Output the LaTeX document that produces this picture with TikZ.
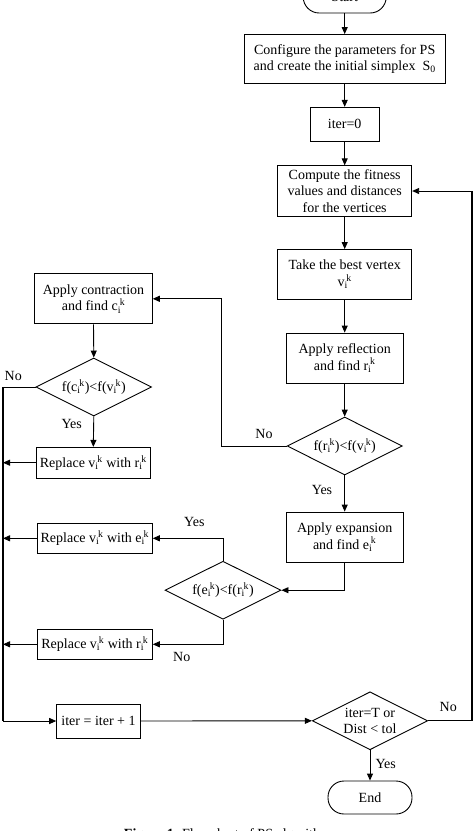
\documentclass[tikz,border=0pt]{standalone}
\usepackage{fontspec}
\setmainfont{Liberation Serif}
\usetikzlibrary{shapes.geometric,arrows.meta}
\newcommand\vik[1]{#1\rlap{\textsubscript{i}}\kern0.14em\textsuperscript{k}}
\tikzset{
  base/.style={line width=0.9pt, inner sep=0pt, align=center, font=\fontsize{14}{16.7}\selectfont},
  box/.style={base, draw, rectangle},
  dec/.style={base, draw, diamond, aspect=2},
  term/.style={base, draw, rectangle, rounded corners=16pt},
  arr/.style={line width=0.9pt, -{Triangle[length=7pt,width=6pt]}},
  ln/.style={line width=0.9pt},
  thick line/.style={line width=1.7pt},
  lbl/.style={inner sep=0pt, font=\fontsize{14}{16.7}\selectfont},
}
\begin{document}
\begin{tikzpicture}[x=1pt,y=-1pt]
\useasboundingbox (0,0) rectangle (474,831);
\clip (0,0) rectangle (474,831);
\fill[white] (0,0) rectangle (474,831);

% main column
\node[term, minimum width=83pt, minimum height=33pt] (start) at (344.7,-3.5) {Start};
\node[box, minimum width=201pt, minimum height=49pt] (cfg) at (344.7,59) {Configure the parameters for PS\\and create the initial simplex\ \ S\textsubscript{0}};
\node[box, minimum width=69pt, minimum height=34pt] (it0) at (344.7,124.3) {iter=0};
\node[box, minimum width=134pt, minimum height=50.5pt] (comp) at (344.7,191) {Compute the fitness\\values and distances\\for the vertices};
\node[box, minimum width=134pt, minimum height=50pt] (best) at (344.7,274.5) {Take the best vertex\\\vik{v}};
\node[box, minimum width=117pt, minimum height=50pt] (refl) at (344.7,358) {Apply reflection\\and find \vik{r}};
\node[dec, minimum width=115pt, minimum height=58pt] (d1) at (344.7,446) {f(\vik{r})<f(\vik{v})};
\node[box, minimum width=117pt, minimum height=50pt] (expn) at (344.7,537) {Apply expansion\\and find \vik{e}};

% expansion decision
\node[dec, minimum width=116pt, minimum height=58pt] (d3) at (223,590.2) {f(\vik{e})<f(\vik{r})};
\node[box, minimum width=115pt, minimum height=30pt] (repe) at (94.8,538.3) {Replace \vik{v} with \vik{e}};
\node[box, minimum width=115pt, minimum height=30pt] (repr2) at (94.8,644.3) {Replace \vik{v} with \vik{r}};

% contraction
\node[box, minimum width=117.6pt, minimum height=50pt] (contr) at (93.5,298.8) {Apply contraction\\and find \vik{c}};
\node[dec, minimum width=115.7pt, minimum height=58pt] (d2) at (93.8,387) {f(\vik{c})<f(\vik{v})};
\node[box, minimum width=114.7pt, minimum height=30.7pt] (repr1) at (93.3,462.7) {Replace \vik{v} with \vik{r}};

% bottom
\node[box, minimum width=83.7pt, minimum height=34pt] (iter) at (98.5,721) {iter = iter + 1};
\node[dec, minimum width=115.4pt, minimum height=58pt] (d4) at (370,720.8) {iter=T or\\Dist < tol};
\node[term, minimum width=84pt, minimum height=33pt] (end) at (370,797.5) {End};

% helper coordinates
\coordinate (nl) at (221.7,446);
\coordinate (lt) at (3,387);
\coordinate (lb) at (3,721);
\coordinate (rb) at (472,720.8);
\coordinate (rt) at (472,191);

% main flow
\draw[arr] (start.south) -- (cfg.north);
\draw[arr] (cfg.south) -- (it0.north);
\draw[arr] (it0.south) -- (comp.north);
\draw[arr] (comp.south) -- (best.north);
\draw[arr] (best.south) -- (refl.north);
\draw[arr] (refl.south) -- (d1.north);
\draw[arr] (d1.south) -- (expn.north);
\draw[arr] (d1.west) -- (nl) |- (contr.east);
\draw[arr] (contr.south) -- (d2.north);
\draw[arr] (d2.south) -- (repr1.north);
\draw[arr] (expn.south) |- (d3.east);
\draw[arr] (d3.north) |- (repe.east);
\draw[arr] (d3.south) |- (repr2.east);

% left return line
\draw[ln] (d2.west) -- (lt);
\draw[thick line] (lt) -- (lb);
\draw[arr] (lb) -- (iter.west);
\draw[arr] (repr1.west) -- (repr1.west -| lt);
\draw[arr] (repe.west) -- (repe.west -| lt);
\draw[arr] (repr2.west) -- (repr2.west -| lt);

\draw[arr] (iter.east) -- (d4.west);
\draw[ln] (d4.east) -- (rb);
\draw[thick line] (rb) -- (rt);
\draw[arr] (rt) -- (comp.east);
\draw[arr] (d4.south) -- (end.north);

% labels
\node[lbl] (l1) at (264,434.3) {No};
\node[lbl] (l2) at (322,490) {Yes};
\node[lbl] (l3) at (13.3,376) {No};
\node[lbl] (l4) at (71.7,424) {Yes};
\node[lbl] (l5) at (194.3,522.3) {Yes};
\node[lbl] (l6) at (181.7,657.3) {No};
\node[lbl] (l7) at (448.3,707.3) {No};
\node[lbl] (l8) at (385.7,764) {Yes};

\node[lbl, anchor=base] (cap) at (227.5,838.5) {\textbf{Figure 1.} Flowchart of PS algorithm};
\end{tikzpicture}
\end{document}
